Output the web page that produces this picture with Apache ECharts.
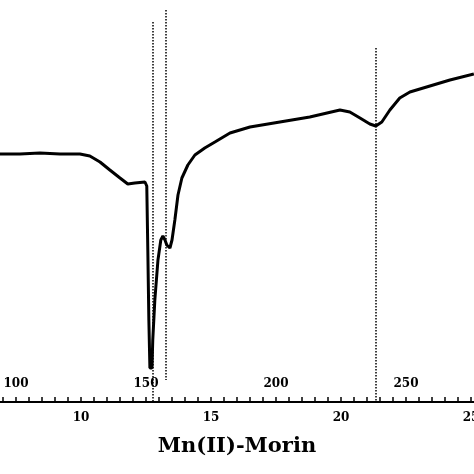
<!DOCTYPE html>
<html><head><meta charset="utf-8">
<script src="https://cdn.jsdelivr.net/npm/echarts@6/dist/echarts.min.js"></script>
<style>html,body{margin:0;padding:0;background:#fff}#c{width:474px;height:474px}</style>
</head><body><div id="c"></div>
<script>
// time (min) and signal (arbitrary units)
const timeMin = [6.88,7.65,8.42,9.19,9.96,10.34,10.73,11.11,11.50,11.80,12.07,12.46,12.53,12.57,12.61,12.65,12.73,12.76,12.84,12.96,13.07,13.15,13.23,13.30,13.42,13.50,13.61,13.73,13.88,14.11,14.38,14.76,15.15,15.73,16.50,17.65,18.80,19.96,20.34,20.73,21.11,21.34,21.57,21.88,22.26,22.65,23.42,24.19,25.11];
const signal = [248,248,249,248,248,246,240,232,224,218,219,220,216,152,82,34,34,62,102,142,162,166,162,157,154,162,182,207,224,237,247,254,260,269,275,280,285,292,290,284,278,276,280,292,304,310,316,322,328];
const tempTicks = [100,150,200,250];
const eventTimes = [12.77,13.26,21.34];
const chart = echarts.init(document.getElementById('c'));
const lab = {fontFamily:'DejaVu Serif',fontWeight:'bold',fontSize:12,color:'#000'};
chart.setOption({
  animation:false,
  grid:{left:-10,right:-10,top:0,bottom:72,containLabel:false,outerBoundsMode:'none'},
  xAxis:[{type:'value',min:6.5,max:25.5,interval:0.5,
    axisLine:{lineStyle:{color:'#000',width:2}},
    axisTick:{inside:true,length:5,lineStyle:{color:'#000',width:1.5}},
    splitLine:{show:false},
    axisLabel:Object.assign({margin:10,formatter:v=>(Math.abs(v%5)<1e-6?String(v):'')},lab)},
   {type:'value',position:'bottom',min:90,max:280,interval:10,
    axisLine:{show:false},axisTick:{show:false},splitLine:{show:false},
    axisLabel:Object.assign({inside:true,margin:12,formatter:v=>(tempTicks.includes(v)?String(v):'')},lab)}],
  yAxis:{type:'value',min:0,max:402,show:false},
  graphic:[{type:'text',left:'center',top:436,style:{text:'Mn(II)-Morin',font:'bold 21px "DejaVu Serif"',fill:'#000'}}],
  series:[{type:'line',data:timeMin.map((t,i)=>[t,signal[i]]),showSymbol:false,
    lineStyle:{color:'#000',width:3},
    markLine:{symbol:'none',silent:true,label:{show:false},
      lineStyle:{color:'#000',type:'dotted',width:1.5},
      data:[[{coord:[eventTimes[0],380]},{coord:[eventTimes[0],0]}],
            [{coord:[eventTimes[1],392]},{coord:[eventTimes[1],22]}],
            [{coord:[eventTimes[2],354]},{coord:[eventTimes[2],0]}]]}}]
});
</script></body></html>
